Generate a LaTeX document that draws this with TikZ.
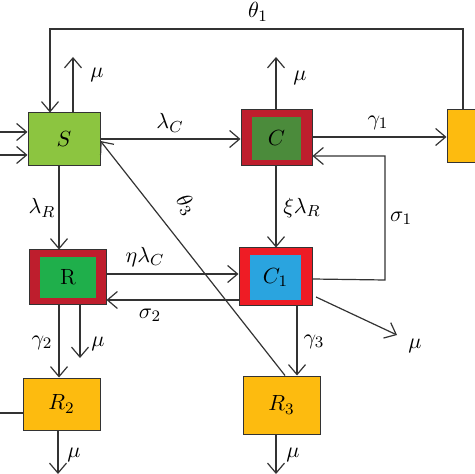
\documentclass[tikz,border=0pt]{standalone}
\usetikzlibrary{arrows.meta}
\definecolor{sgreen}{HTML}{8CC540}
\definecolor{dred}{HTML}{BE1E2D}
\definecolor{cgreen}{HTML}{4B8B3B}
\definecolor{rgreen}{HTML}{1FAF4B}
\definecolor{bred}{HTML}{EE1C25}
\definecolor{cblue}{HTML}{2AA4DF}
\definecolor{yel}{HTML}{FDBB0F}
\definecolor{ln}{HTML}{333333}
\tikzset{
  boxs/.style={draw=ln, line width=0.5pt, rectangle, inner sep=0pt, font=\fontsize{11}{13}\selectfont},
  inbox/.style={rectangle, inner sep=0pt, font=\fontsize{11}{13}\selectfont},
  arr/.style={draw=ln, line width=0.6pt, -{Straight Barb[length=5pt,width=8.5pt,line width=0.6pt]}},
  plain/.style={draw=ln, line width=0.6pt},
  lab/.style={font=\fontsize{11}{13}\selectfont, inner sep=0pt}
}
\begin{document}
\begin{tikzpicture}[x=0.5pt,y=-0.5pt]
\useasboundingbox (0,0) rectangle (474,474);
% boxes
\node[boxs, fill=sgreen, minimum width=36pt, minimum height=26.5pt] (S) at (64,139.5) {$S$};
\node[boxs, fill=dred, minimum width=35.5pt, minimum height=28pt] (C) at (276.5,138) {};
\node[inbox, fill=cgreen, minimum width=24.5pt, minimum height=21.5pt] (Ci) at (276.5,138.5) {$C$};
\node[boxs, fill=yel, minimum width=22pt, minimum height=26.5pt] (Y) at (469,136.5) {};
\node[boxs, fill=dred, minimum width=38.5pt, minimum height=27.5pt] (R) at (67.5,277.5) {};
\node[inbox, fill=rgreen, minimum width=28pt, minimum height=20.5pt] (Ri) at (68,277.5) {R};
\node[boxs, fill=bred, minimum width=36.5pt, minimum height=29pt] (C1) at (275.5,277) {};
\node[inbox, fill=cblue, minimum width=25.5pt, minimum height=22.5pt] (C1i) at (275.5,277.5) {$C_1$};
\node[boxs, fill=yel, minimum width=38.5pt, minimum height=26pt] (R2) at (61.5,404) {$R_2$};
\node[boxs, fill=yel, minimum width=38.5pt, minimum height=29pt] (R3) at (281.5,405) {$R_3$};
% free ends
\coordinate (muS) at (73,57);
\coordinate (muC) at (276,57);
\coordinate (in1) at (0,132);
\coordinate (in2) at (0,155);
\coordinate (c1o) at (316,297);
\coordinate (muC1) at (397,335);
\coordinate (muR) at (80,358);
\coordinate (r2o) at (0,413);
\coordinate (muR2) at (58,474);
\coordinate (muR3) at (276,474);
% connectors
\draw[arr] (Y.north -| 463,0) -- (463,29) -| (S.north -| 50,0);
\draw[arr] (S.north -| muS) -- (muS);
\draw[arr] (C.north -| muC) -- (muC);
\draw[arr] (in1) -- (S.west |- in1);
\draw[arr] (in2) -- (S.west |- in2);
\draw[arr] (S.east |- 0,139) -- (C.west |- 0,139);
\draw[arr] (C.east |- 0,137) -- (Y.west |- 0,137);
\draw[arr] (C1.east |- 0,279) -- (385,280) -- (385,156) -- (C.east |- 0,156);
\draw[arr] (C.south -| 276,0) -- (C1.north -| 276,0);
\draw[arr] (S.south -| 59,0) -- (R.north -| 59,0);
\draw[arr] (R3.north -| 285,0) -- (S.east |- 0,141);
\draw[arr] (R.east |- 0,274) -- (C1.west |- 0,274);
\draw[arr] (C1.west |- 0,300) -- (R.east |- 0,300);
\draw[arr] (c1o) -- (muC1);
\draw[arr] (R.south -| 59,0) -- (R2.north -| 59,0);
\draw[arr] (R.south -| muR) -- (muR);
\draw[arr] (C1.south -| 297,0) -- (R3.north -| 297,0);
\draw[plain] (r2o) -- (R2.west |- r2o);
\draw[arr] (R2.south -| muR2) -- (muR2);
\draw[arr] (R3.south -| muR3) -- (muR3);
% labels
\node[lab] at (258,12) {$\theta_1$};
\node[lab] at (97,75) {$\mu$};
\node[lab] at (300,78) {$\mu$};
\node[lab] at (170,123) {$\lambda_C$};
\node[lab] at (378,123) {$\gamma_1$};
\node[lab] at (42,208) {$\lambda_R$};
\node[lab, rotate=-55] at (186,205) {$\theta_3$};
\node[lab] at (302,208) {$\xi\lambda_R$};
\node[lab] at (401,218) {$\sigma_1$};
\node[lab] at (145,257) {$\eta\lambda_C$};
\node[lab] at (150,315) {$\sigma_2$};
\node[lab] at (42,343) {$\gamma_2$};
\node[lab] at (98,344) {$\mu$};
\node[lab] at (314,342) {$\gamma_3$};
\node[lab] at (415,346) {$\mu$};
\node[lab] at (74,455) {$\mu$};
\node[lab] at (293,455) {$\mu$};
\end{tikzpicture}
\end{document}
